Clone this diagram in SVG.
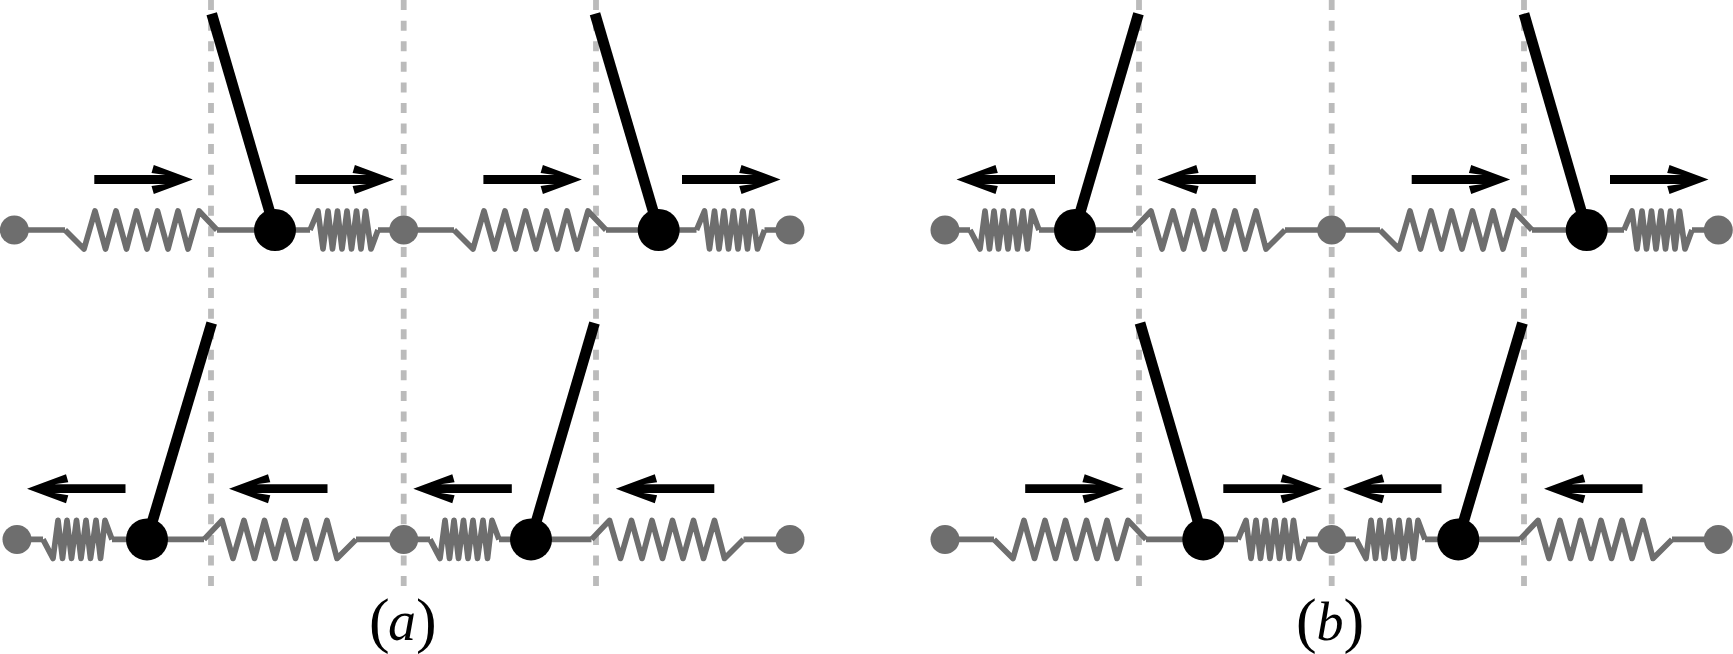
<svg xmlns="http://www.w3.org/2000/svg" width="1733" height="654" viewBox="0 0 1733 654">
<style>
.guide{stroke:#bbbbbb;stroke-width:5.8;stroke-dasharray:10 10.57;fill:none}
.spring{fill:none;stroke:#6e6e6e;stroke-width:5.7;stroke-linejoin:round;stroke-linecap:butt}
.wire{fill:none;stroke:#6e6e6e;stroke-width:5.7}
.rod{stroke:#000;stroke-width:10.8;fill:none}
.mass{fill:#000}
.end{fill:#6e6e6e}
.arr{fill:#000}
.lbl{font-family:"Liberation Serif",serif;fill:#000}
</style>
<defs>
<path id="wf" class="spring" d="M0 0L19 19L30 -19L40.5 19L51 -19L61.5 19L71.5 -19L82 19L92.5 -19L103 19L113 -19L123 19L134 -19L152 0"/>
<path id="wr" class="spring" d="M0 0L18 -19L29 19L40 -19L50.5 19L60.5 -19L71 19L81 -19L91.5 19L102 -19L112 19L123 -19L133 19L152 0"/>
<path id="cf" class="spring" d="M0 0L8 -19L13 19L18 -19L22.5 19L27.5 -19L32 19L37 -19L41.5 19L46.5 -19L51 19L55.5 -19L61 19L68 0"/>
<path id="cr" class="spring" d="M0 0L10 19L15 -19L19.5 19L24 -19L28.5 19L33.5 -19L38 19L43 -19L47.5 19L53 -19L57.5 19L62 -19L69 0"/>
<path id="ar" class="arr" d="M98.5 0L59.5 -14.5L57.2 -6.5L71 -4.4L0 -4.4L0 4.4L71 4.4L57.2 6.5L59.5 14.5Z"/>
<path id="al" class="arr" d="M0 0L39 -14.5L41.3 -6.5L27.5 -4.4L98.5 -4.4L98.5 4.4L27.5 4.4L41.3 6.5L39 14.5Z"/>
</defs>
<g id="guides">
<line class="guide" x1="211" y1="0.1" x2="211" y2="586"/>
<line class="guide" x1="403.7" y1="0.1" x2="403.7" y2="586"/>
<line class="guide" x1="596" y1="0.1" x2="596" y2="586"/>
<line class="guide" x1="1139" y1="0.1" x2="1139" y2="586"/>
<line class="guide" x1="1331.7" y1="0.1" x2="1331.7" y2="586"/>
<line class="guide" x1="1524" y1="0.1" x2="1524" y2="586"/>
</g>
<g id="connectors">
<path class="wire" d="M14.3 230H65M217 230H275M275 230H310M378 230H404M404 230H454M606 230H659M659 230H696.5M764.5 230H790"/>
<use href="#wf" x="65" y="230"/><use href="#cf" x="310" y="230"/><use href="#wf" x="454" y="230"/><use href="#cf" x="696.5" y="230"/>
<path class="wire" d="M17 539.4H43M112 539.4H147M147 539.4H204M356 539.4H404M404 539.4H430M499 539.4H531M531 539.4H591.5M743.5 539.4H790"/>
<use href="#cr" x="43" y="539.4"/><use href="#wr" x="204" y="539.4"/><use href="#cr" x="430" y="539.4"/><use href="#wr" x="591.5" y="539.4"/>
<path class="wire" d="M945 230H970M1039 230H1075M1075 230H1133M1285 230H1332M1332 230H1380M1532 230H1587M1587 230H1624M1692 230H1718"/>
<use href="#cr" x="970" y="230"/><use href="#wr" x="1133" y="230"/><use href="#wf" x="1380" y="230"/><use href="#cf" x="1624" y="230"/>
<path class="wire" d="M945 539.4H994M1146 539.4H1203M1203 539.4H1238M1306 539.4H1332M1332 539.4H1356M1425 539.4H1458M1458 539.4H1520M1672 539.4H1718"/>
<use href="#wf" x="994" y="539.4"/><use href="#cf" x="1238" y="539.4"/><use href="#cr" x="1356" y="539.4"/><use href="#wr" x="1520" y="539.4"/>
</g>
<g id="arrows">
<use href="#ar" x="94.3" y="179.5"/><use href="#ar" x="295.4" y="179.5"/><use href="#ar" x="483.4" y="179.5"/><use href="#ar" x="682" y="179.5"/>
<use href="#al" x="27" y="488.7"/><use href="#al" x="229" y="488.7"/><use href="#al" x="413.3" y="488.7"/><use href="#al" x="615.8" y="488.7"/>
<use href="#al" x="956.5" y="179.5"/><use href="#al" x="1157.3" y="179.5"/><use href="#ar" x="1411.7" y="179.5"/><use href="#ar" x="1610" y="179.5"/>
<use href="#ar" x="1025.2" y="488.7"/><use href="#ar" x="1223.3" y="488.7"/><use href="#al" x="1343" y="488.7"/><use href="#al" x="1544" y="488.7"/>
</g>
<g id="end-nodes">
<circle id="end-a1-l" class="end" cx="14.3" cy="230" r="14.5"/><circle id="end-a1-m" class="end" cx="403.7" cy="230" r="14.5"/><circle id="end-a1-r" class="end" cx="790" cy="230" r="14.5"/>
<circle id="end-a2-l" class="end" cx="17" cy="539.4" r="14.5"/><circle id="end-a2-m" class="end" cx="403.7" cy="539.4" r="14.5"/><circle id="end-a2-r" class="end" cx="790" cy="539.4" r="14.5"/>
<circle id="end-b1-l" class="end" cx="945" cy="230" r="14.5"/><circle id="end-b1-m" class="end" cx="1331.7" cy="230" r="14.5"/><circle id="end-b1-r" class="end" cx="1718.3" cy="230" r="14.5"/>
<circle id="end-b2-l" class="end" cx="945" cy="539.4" r="14.5"/><circle id="end-b2-m" class="end" cx="1331.7" cy="539.4" r="14.5"/><circle id="end-b2-r" class="end" cx="1718.3" cy="539.4" r="14.5"/>
</g>
<g id="mass-a1"><line class="rod" x1="211.7" y1="13.7" x2="275" y2="230"/><circle class="mass" cx="275" cy="230" r="21"/></g>
<g id="mass-a2"><line class="rod" x1="595" y1="13.7" x2="658.7" y2="230"/><circle class="mass" cx="658.7" cy="230" r="21"/></g>
<g id="mass-a3"><line class="rod" x1="211.7" y1="323" x2="147" y2="539.4"/><circle class="mass" cx="147" cy="539.4" r="21"/></g>
<g id="mass-a4"><line class="rod" x1="594.5" y1="323" x2="531" y2="539.4"/><circle class="mass" cx="531" cy="539.4" r="21"/></g>
<g id="mass-b1"><line class="rod" x1="1138.5" y1="13.7" x2="1075" y2="230"/><circle class="mass" cx="1075" cy="230" r="21"/></g>
<g id="mass-b2"><line class="rod" x1="1524" y1="13.7" x2="1586.7" y2="230"/><circle class="mass" cx="1586.7" cy="230" r="21"/></g>
<g id="mass-b3"><line class="rod" x1="1140" y1="323" x2="1203.3" y2="539.4"/><circle class="mass" cx="1203.3" cy="539.4" r="21"/></g>
<g id="mass-b4"><line class="rod" x1="1522.5" y1="323" x2="1458.3" y2="539.4"/><circle class="mass" cx="1458.3" cy="539.4" r="21"/></g>
<g id="label-a"><text class="lbl" font-size="56"><tspan x="369" y="641" font-size="62">(</tspan><tspan x="388" y="640" font-style="italic">a</tspan><tspan x="416" y="641" font-size="62">)</tspan></text></g>
<g id="label-b"><text class="lbl" font-size="54"><tspan x="1296" y="641" font-size="62">(</tspan><tspan x="1316.5" y="640" font-style="italic">b</tspan><tspan x="1343.5" y="641" font-size="62">)</tspan></text></g>
</svg>
